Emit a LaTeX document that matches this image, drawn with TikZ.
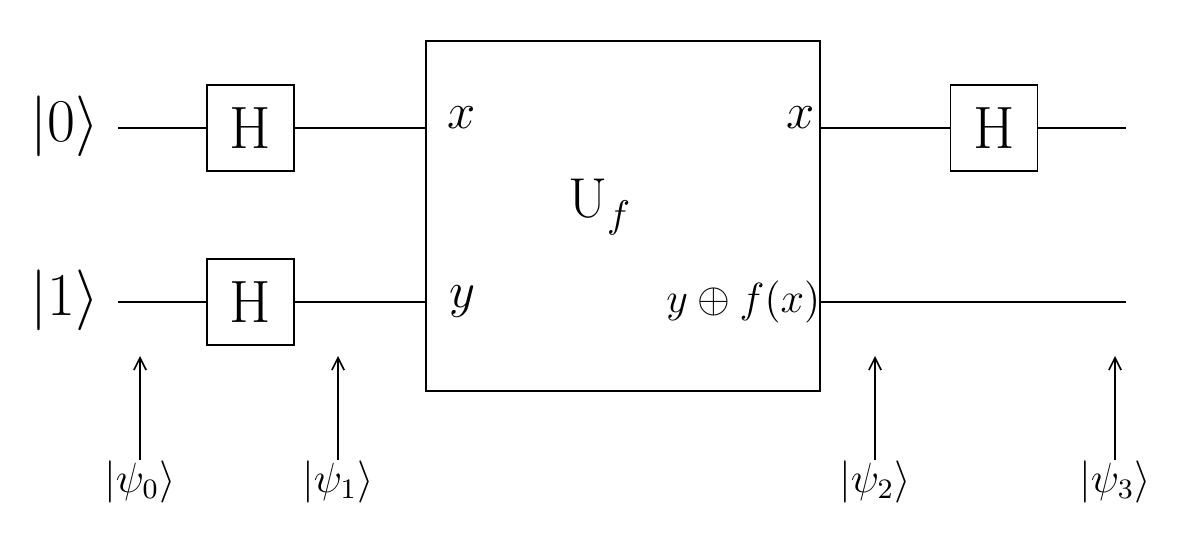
\documentclass[tikz,border=0pt]{standalone}
\usepackage{amsmath}
\usetikzlibrary{arrows.meta}
\begin{document}
\begin{tikzpicture}[x=0.01cm,y=-0.01cm,line width=0.45pt,
  gate/.style={draw,minimum width=0.87cm,minimum height=0.86cm,inner sep=0pt,font=\fontsize{17}{19}\selectfont},
  big/.style={font=\fontsize{16}{18}\selectfont},
  lab/.style={font=\fontsize{15}{17}\selectfont},
  psi/.style={font=\fontsize{12}{14}\selectfont},
  arr/.style={-{Straight Barb[length=3.5pt,width=3.5pt]},line width=0.45pt}]
\useasboundingbox (0,0) rectangle (1200,543);
\node[big] (k0) at (65,126) {$|0\rangle$};
\node[big] (k1) at (65,300) {$|1\rangle$};
\coordinate (a0) at (118,128);
\coordinate (a1) at (118,302);
\node[gate] (h1) at (250.5,128) {H};
\node[gate] (h2) at (250.5,302) {H};
\node[draw,minimum width=3.94cm,minimum height=3.5cm,inner sep=0pt] (U) at (623,216) {};
\node[big] (uf) at (600,207) {U$_f$};
\coordinate (ux1) at (426,128);
\coordinate (uy1) at (426,302);
\coordinate (ux2) at (820,128);
\coordinate (uy2) at (820,302);
\node[lab] (lx) at (462,118) {$x$};
\node[lab] (ly) at (462,302) {$y$};
\node[lab] (rx) at (801,118) {$x$};
\node[psi,anchor=east,inner sep=0pt] (ry) at (821,302) {$y\oplus f(x)$};
\node[gate] (h3) at (994,128) {H};
\coordinate (e0) at (1126,128);
\coordinate (e1) at (1126,302);
\draw (a0) -- (h1.west) (h1.east) -- (ux1);
\draw (a1) -- (h2.west) (h2.east) -- (uy1);
\draw (ux2) -- (h3.west) (h3.east) -- (e0);
\draw (uy2) -- (e1);
\foreach \x/\i in {140/0,338/1,875/2,1115/3}{
  \node[psi] (p\i) at (\x,482) {$|\psi_\i\rangle$};
  \coordinate (t\i) at (\x,356);
  \draw[arr] (\x,460) -- (t\i);
}
\end{tikzpicture}
\end{document}
